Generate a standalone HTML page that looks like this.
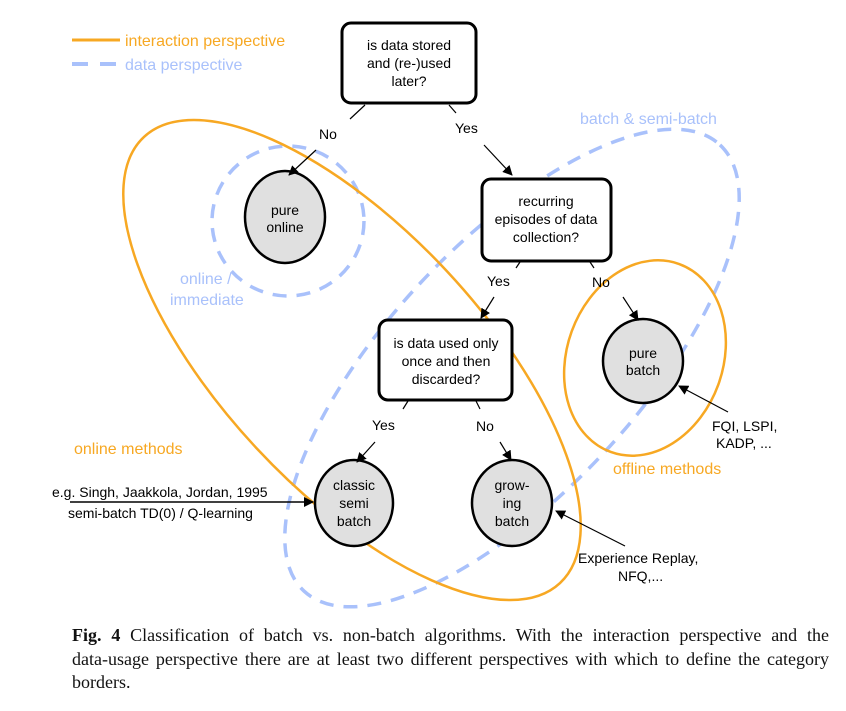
<!DOCTYPE html>
<html><head><meta charset="utf-8"><style>
body{margin:0;background:#fff;width:846px;height:711px;overflow:hidden}
svg text{font-family:"Liberation Sans",sans-serif}
.cap{position:absolute;left:72px;top:624px;width:757px;text-align:justify;font-family:"Liberation Serif",serif;font-size:18px;line-height:23.5px;color:#111}
</style></head><body>
<svg width="846" height="620" style="position:absolute;left:0;top:0">
<defs><marker id="a" markerWidth="10" markerHeight="10" refX="9" refY="5" orient="auto" markerUnits="userSpaceOnUse"><path d="M0,0 L10,5 L0,10 z" fill="#000"/></marker></defs>
<line x1="72" y1="40" x2="120" y2="40" stroke="#f7a823" stroke-width="3"/>
<text x="125" y="46" font-size="16" fill="#f7a823">interaction perspective</text>
<line x1="72" y1="64" x2="120" y2="64" stroke="#a9c1fb" stroke-width="4" stroke-dasharray="16,12"/>
<text x="125" y="70" font-size="16" fill="#a9c1fb">data perspective</text>
<ellipse cx="288" cy="221" rx="76" ry="75" fill="none" stroke="#a9c1fb" stroke-width="3.5" stroke-dasharray="14,10"/>
<ellipse cx="512" cy="368" rx="305" ry="125" transform="rotate(-47 512 368)" fill="none" stroke="#a9c1fb" stroke-width="3.5" stroke-dasharray="14,10"/>
<ellipse cx="352" cy="360" rx="305" ry="130" transform="rotate(47 352 360)" fill="none" stroke="#f7a823" stroke-width="2.5"/>
<ellipse cx="645" cy="358" rx="78" ry="100" transform="rotate(20 645 358)" fill="none" stroke="#f7a823" stroke-width="2.5"/>
<text x="580" y="124" font-size="16" fill="#a9c1fb">batch &amp; semi-batch</text>
<text x="180" y="284" font-size="16" fill="#a9c1fb">online /</text>
<text x="170" y="305" font-size="16" fill="#a9c1fb">immediate</text>
<text x="74" y="454" font-size="16" fill="#f7a823">online methods</text>
<text x="613" y="474" font-size="16" fill="#f7a823">offline methods</text>
<g fill="#fff" stroke="#000" stroke-width="3">
<rect x="342" y="23" width="134" height="80" rx="9"/>
<rect x="482" y="179" width="129" height="82" rx="9"/>
<rect x="379" y="320" width="133" height="80" rx="9"/>
</g>
<g font-size="14" text-anchor="middle" fill="#000">
<text x="409" y="50">is data stored</text><text x="409" y="68">and (re-)used</text><text x="409" y="86">later?</text>
<text x="546" y="206">recurring</text><text x="546" y="224">episodes of data</text><text x="546" y="242">collection?</text>
<text x="446" y="348">is data used only</text><text x="446" y="366">once and then</text><text x="446" y="384">discarded?</text>
</g>
<g fill="#e0e0e0" stroke="#000" stroke-width="2.5">
<ellipse cx="285" cy="217" rx="40" ry="46"/>
<ellipse cx="643" cy="361" rx="40" ry="42"/>
<ellipse cx="354" cy="503" rx="39" ry="43"/>
<ellipse cx="512" cy="503" rx="40" ry="43"/>
</g>
<g font-size="14" text-anchor="middle" fill="#000">
<text x="285" y="215">pure</text><text x="285" y="232">online</text>
<text x="643" y="358">pure</text><text x="643" y="375">batch</text>
<text x="354" y="490">classic</text><text x="354" y="508">semi</text><text x="354" y="526">batch</text>
<text x="512" y="490">grow-</text><text x="512" y="508">ing</text><text x="512" y="526">batch</text>
</g>
<g stroke="#000" stroke-width="1.2" fill="none">
<line x1="365" y1="105" x2="350" y2="119"/><line x1="316" y1="150" x2="289" y2="175" marker-end="url(#a)"/>
<line x1="449" y1="105" x2="456" y2="113"/><line x1="484" y1="145" x2="512" y2="175" marker-end="url(#a)"/>
<line x1="520" y1="262" x2="516" y2="268"/><line x1="494" y1="297" x2="481" y2="318" marker-end="url(#a)"/>
<line x1="590" y1="262" x2="594" y2="268"/><line x1="623" y1="297" x2="638" y2="320" marker-end="url(#a)"/>
<line x1="408" y1="401" x2="403" y2="409"/><line x1="375" y1="442" x2="357" y2="462" marker-end="url(#a)"/>
<line x1="476" y1="401" x2="480" y2="409"/><line x1="500" y1="442" x2="511" y2="460" marker-end="url(#a)"/>
<line x1="70" y1="502" x2="313" y2="502" stroke-width="1.5" marker-end="url(#a)"/>
<line x1="728" y1="412" x2="679" y2="386" marker-end="url(#a)"/>
<line x1="625" y1="546" x2="556" y2="511" marker-end="url(#a)"/>
</g>
<g font-size="14" fill="#000">
<text x="319" y="139">No</text><text x="455" y="133">Yes</text>
<text x="487" y="286">Yes</text><text x="592" y="287">No</text>
<text x="372" y="430">Yes</text><text x="476" y="431">No</text>
<text x="52" y="497">e.g. Singh, Jaakkola, Jordan, 1995</text>
<text x="68" y="518">semi-batch TD(0) / Q-learning</text>
<text x="712" y="431">FQI, LSPI,</text><text x="716" y="448">KADP, ...</text>
<text x="578" y="563">Experience Replay,</text><text x="618" y="581">NFQ,...</text>
</g>
</svg>
<div class="cap"><b>Fig. 4</b> Classification of batch vs. non-batch algorithms. With the interaction perspective and the data&#8209;usage perspective there are at least two different perspectives with which to define the category borders.</div>
</body></html>
